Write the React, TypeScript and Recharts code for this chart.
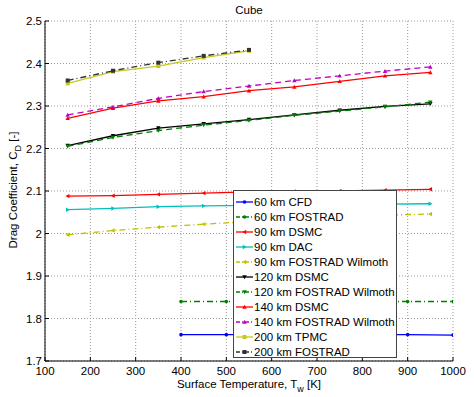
import { LineChart, Line, CartesianGrid, XAxis, YAxis } from "recharts";

const tempsFull = [150, 250, 350, 450, 550, 650, 750, 850, 950];
const tempsLow = [150, 250, 350, 450, 550];
const tempsHigh = [400, 500, 600, 700, 800, 900, 1000];
const xTicks = [100, 200, 300, 400, 500, 600, 700, 800, 900, 1000];
const yTicks = [1.7, 1.8, 1.9, 2.0, 2.1, 2.2, 2.3, 2.4, 2.5];

const cfd60 = [1.762, 1.762, 1.762, 1.762, 1.762, 1.762, 1.761];
const fostrad60 = [1.84, 1.84, 1.84, 1.84, 1.84, 1.84, 1.84];
const dsmc90 = [2.088, 2.089, 2.092, 2.095, 2.098, 2.099, 2.1, 2.102, 2.104];
const dac90 = [2.056, 2.059, 2.063, 2.065, 2.066, 2.067, 2.068, 2.069, 2.07];
const wilmoth90 = [1.997, 2.007, 2.015, 2.022, 2.028, 2.033, 2.038, 2.043, 2.046];
const dsmc120 = [2.207, 2.23, 2.248, 2.258, 2.268, 2.279, 2.29, 2.299, 2.305];
const wilmoth120 = [2.205, 2.226, 2.242, 2.255, 2.266, 2.278, 2.288, 2.298, 2.309];
const dsmc140 = [2.271, 2.295, 2.312, 2.322, 2.336, 2.345, 2.358, 2.371, 2.379];
const wilmoth140 = [2.279, 2.298, 2.318, 2.334, 2.347, 2.36, 2.371, 2.382, 2.392];
const tpmc200 = [2.353, 2.381, 2.394, 2.414, 2.43];
const fostrad200 = [2.36, 2.383, 2.402, 2.418, 2.432];

const toData = (xs: number[], ys: number[]) => xs.map((x, i) => ({ x, y: ys[i] }));

const DASHDOT = "6 3 1 3";
const DASHED = "6 4";

const series = [
  { name: "60 km CFD", data: toData(tempsHigh, cfd60), color: "#0000ff", dash: undefined, marker: "circle" },
  { name: "60 km FOSTRAD", data: toData(tempsHigh, fostrad60), color: "#008000", dash: DASHDOT, marker: "circle" },
  { name: "90 km DSMC", data: toData(tempsFull, dsmc90), color: "#ff0000", dash: undefined, marker: "left" },
  { name: "90 km DAC", data: toData(tempsFull, dac90), color: "#00bfbf", dash: undefined, marker: "right" },
  { name: "90 km FOSTRAD Wilmoth", data: toData(tempsFull, wilmoth90), color: "#bfbf00", dash: DASHDOT, marker: "left" },
  { name: "120 km DSMC", data: toData(tempsFull, dsmc120), color: "#000000", dash: undefined, marker: "down" },
  { name: "120 km FOSTRAD Wilmoth", data: toData(tempsFull, wilmoth120), color: "#008000", dash: DASHED, marker: "down" },
  { name: "140 km DSMC", data: toData(tempsFull, dsmc140), color: "#ff0000", dash: undefined, marker: "up" },
  { name: "140 km FOSTRAD Wilmoth", data: toData(tempsFull, wilmoth140), color: "#bf00bf", dash: DASHED, marker: "up" },
  { name: "200 km TPMC", data: toData(tempsLow, tpmc200), color: "#c8c820", dash: undefined, marker: "square" },
  { name: "200 km FOSTRAD", data: toData(tempsLow, fostrad200), color: "#333333", dash: DASHDOT, marker: "square" },
];

const FONT = "'Liberation Sans', Arial, sans-serif";

function markerShape(kind: string, cx: number, cy: number, color: string, key?: any) {
  const s = 2.2;
  if (kind === "circle") return <circle key={key} cx={cx} cy={cy} r={1.8} fill={color} stroke="none" />;
  if (kind === "square") return <rect key={key} x={cx - 2} y={cy - 2} width={4} height={4} fill={color} stroke="none" />;
  let pts = "";
  if (kind === "up") pts = `${cx},${cy - s} ${cx - s},${cy + s * 0.8} ${cx + s},${cy + s * 0.8}`;
  if (kind === "down") pts = `${cx},${cy + s} ${cx - s},${cy - s * 0.8} ${cx + s},${cy - s * 0.8}`;
  if (kind === "left") pts = `${cx - s},${cy} ${cx + s * 0.8},${cy - s} ${cx + s * 0.8},${cy + s}`;
  if (kind === "right") pts = `${cx + s},${cy} ${cx - s * 0.8},${cy - s} ${cx - s * 0.8},${cy + s}`;
  return <polygon key={key} points={pts} fill={color} stroke="none" />;
}

const LegendBox = () => (
  <div
    style={{
      position: "absolute",
      left: 233,
      top: 190,
      background: "#fff",
      border: "1px solid #444",
      width: 164,
      height: 168,
      padding: "3px 0 0 2px",
      boxSizing: "border-box",
      fontFamily: FONT,
      fontSize: 11.5,
    }}
  >
    {series.map((s) => (
      <div key={s.name} style={{ display: "flex", alignItems: "center", height: 15 }}>
        <svg width={17} height={10} style={{ marginRight: 1 }}>
          <line x1={0} y1={5} x2={17} y2={5} stroke={s.color} strokeWidth={1.3} strokeDasharray={s.dash ? "4 2 1 2" : undefined} />
          {markerShape(s.marker, 8.5, 5, s.color)}
        </svg>
        <span style={{ color: "#000", whiteSpace: "nowrap" }}>{s.name}</span>
      </div>
    ))}
  </div>
);

const XLabel = (props: any) => {
  const { viewBox } = props;
  const cx = viewBox.x + viewBox.width / 2;
  return (
    <text x={cx} y={viewBox.y + 27} textAnchor="middle" fontFamily={FONT} fontSize={11.5} fill="#000">
      Surface Temperature, T
      <tspan fontSize={9} dy={4}>w</tspan>
      <tspan dy={-4}> [K]</tspan>
    </text>
  );
};

const YLabel = () => (
  <text x={0} y={0} transform="translate(17,190) rotate(-90)" textAnchor="middle" fontFamily={FONT} fontSize={11.5} fill="#000">
    Drag Coefficient, C
    <tspan fontSize={9} dy={4}>D</tspan>
    <tspan dy={-4}> [-]</tspan>
  </text>
);

export default function App() {
  return (
    <div style={{ position: "absolute", left: 0, top: 0, width: 474, height: 397, background: "#fff" }}>
      <LineChart width={474} height={397} margin={{ top: 21, right: 21, bottom: 0, left: 0 }}>
        <text x={249} y={14} textAnchor="middle" fontFamily={FONT} fontSize={11.5} fill="#000">
          Cube
        </text>
        <CartesianGrid stroke="#999" strokeDasharray="1 2" />
        <XAxis
          type="number"
          dataKey="x"
          domain={[100, 1000]}
          ticks={xTicks}
          allowDataOverflow
          height={36}
          axisLine={{ stroke: "#000" }}
          tickLine={{ stroke: "#000" }}
          tickSize={-4}
          tickMargin={10}
          tick={{ fill: "#000", fontSize: 11.5, fontFamily: FONT }}
          label={<XLabel />}
        />
        <XAxis xAxisId="top" orientation="top" type="number" domain={[100, 1000]} ticks={xTicks} height={0} axisLine={{ stroke: "#000" }} tickLine={{ stroke: "#000" }} tickSize={-4} tick={false} />
        <YAxis
          type="number"
          dataKey="y"
          domain={[1.7, 2.5]}
          ticks={yTicks}
          allowDataOverflow
          width={45}
          axisLine={{ stroke: "#000" }}
          tickLine={{ stroke: "#000" }}
          tickSize={-4}
          tickMargin={7}
          tickFormatter={(v: number) => String(Number(v.toFixed(1)))}
          tick={{ fill: "#000", fontSize: 11.5, fontFamily: FONT }}
        />
        <YAxis yAxisId="right" orientation="right" type="number" domain={[1.7, 2.5]} ticks={yTicks} width={0} axisLine={{ stroke: "#000" }} tickLine={{ stroke: "#000" }} tickSize={-4} tick={false} />
        {series.map((s) => (
          <Line
            key={s.name}
            data={s.data}
            dataKey="y"
            name={s.name}
            type="linear"
            stroke={s.color}
            strokeWidth={1.3}
            strokeDasharray={s.dash}
            isAnimationActive={false}
            dot={(p: any) => markerShape(s.marker, p.cx, p.cy, s.color, p.key ?? `${s.name}-${p.index}`)}
            activeDot={false}
          />
        ))}
        <YLabel />
      </LineChart>
      <LegendBox />
    </div>
  );
}
